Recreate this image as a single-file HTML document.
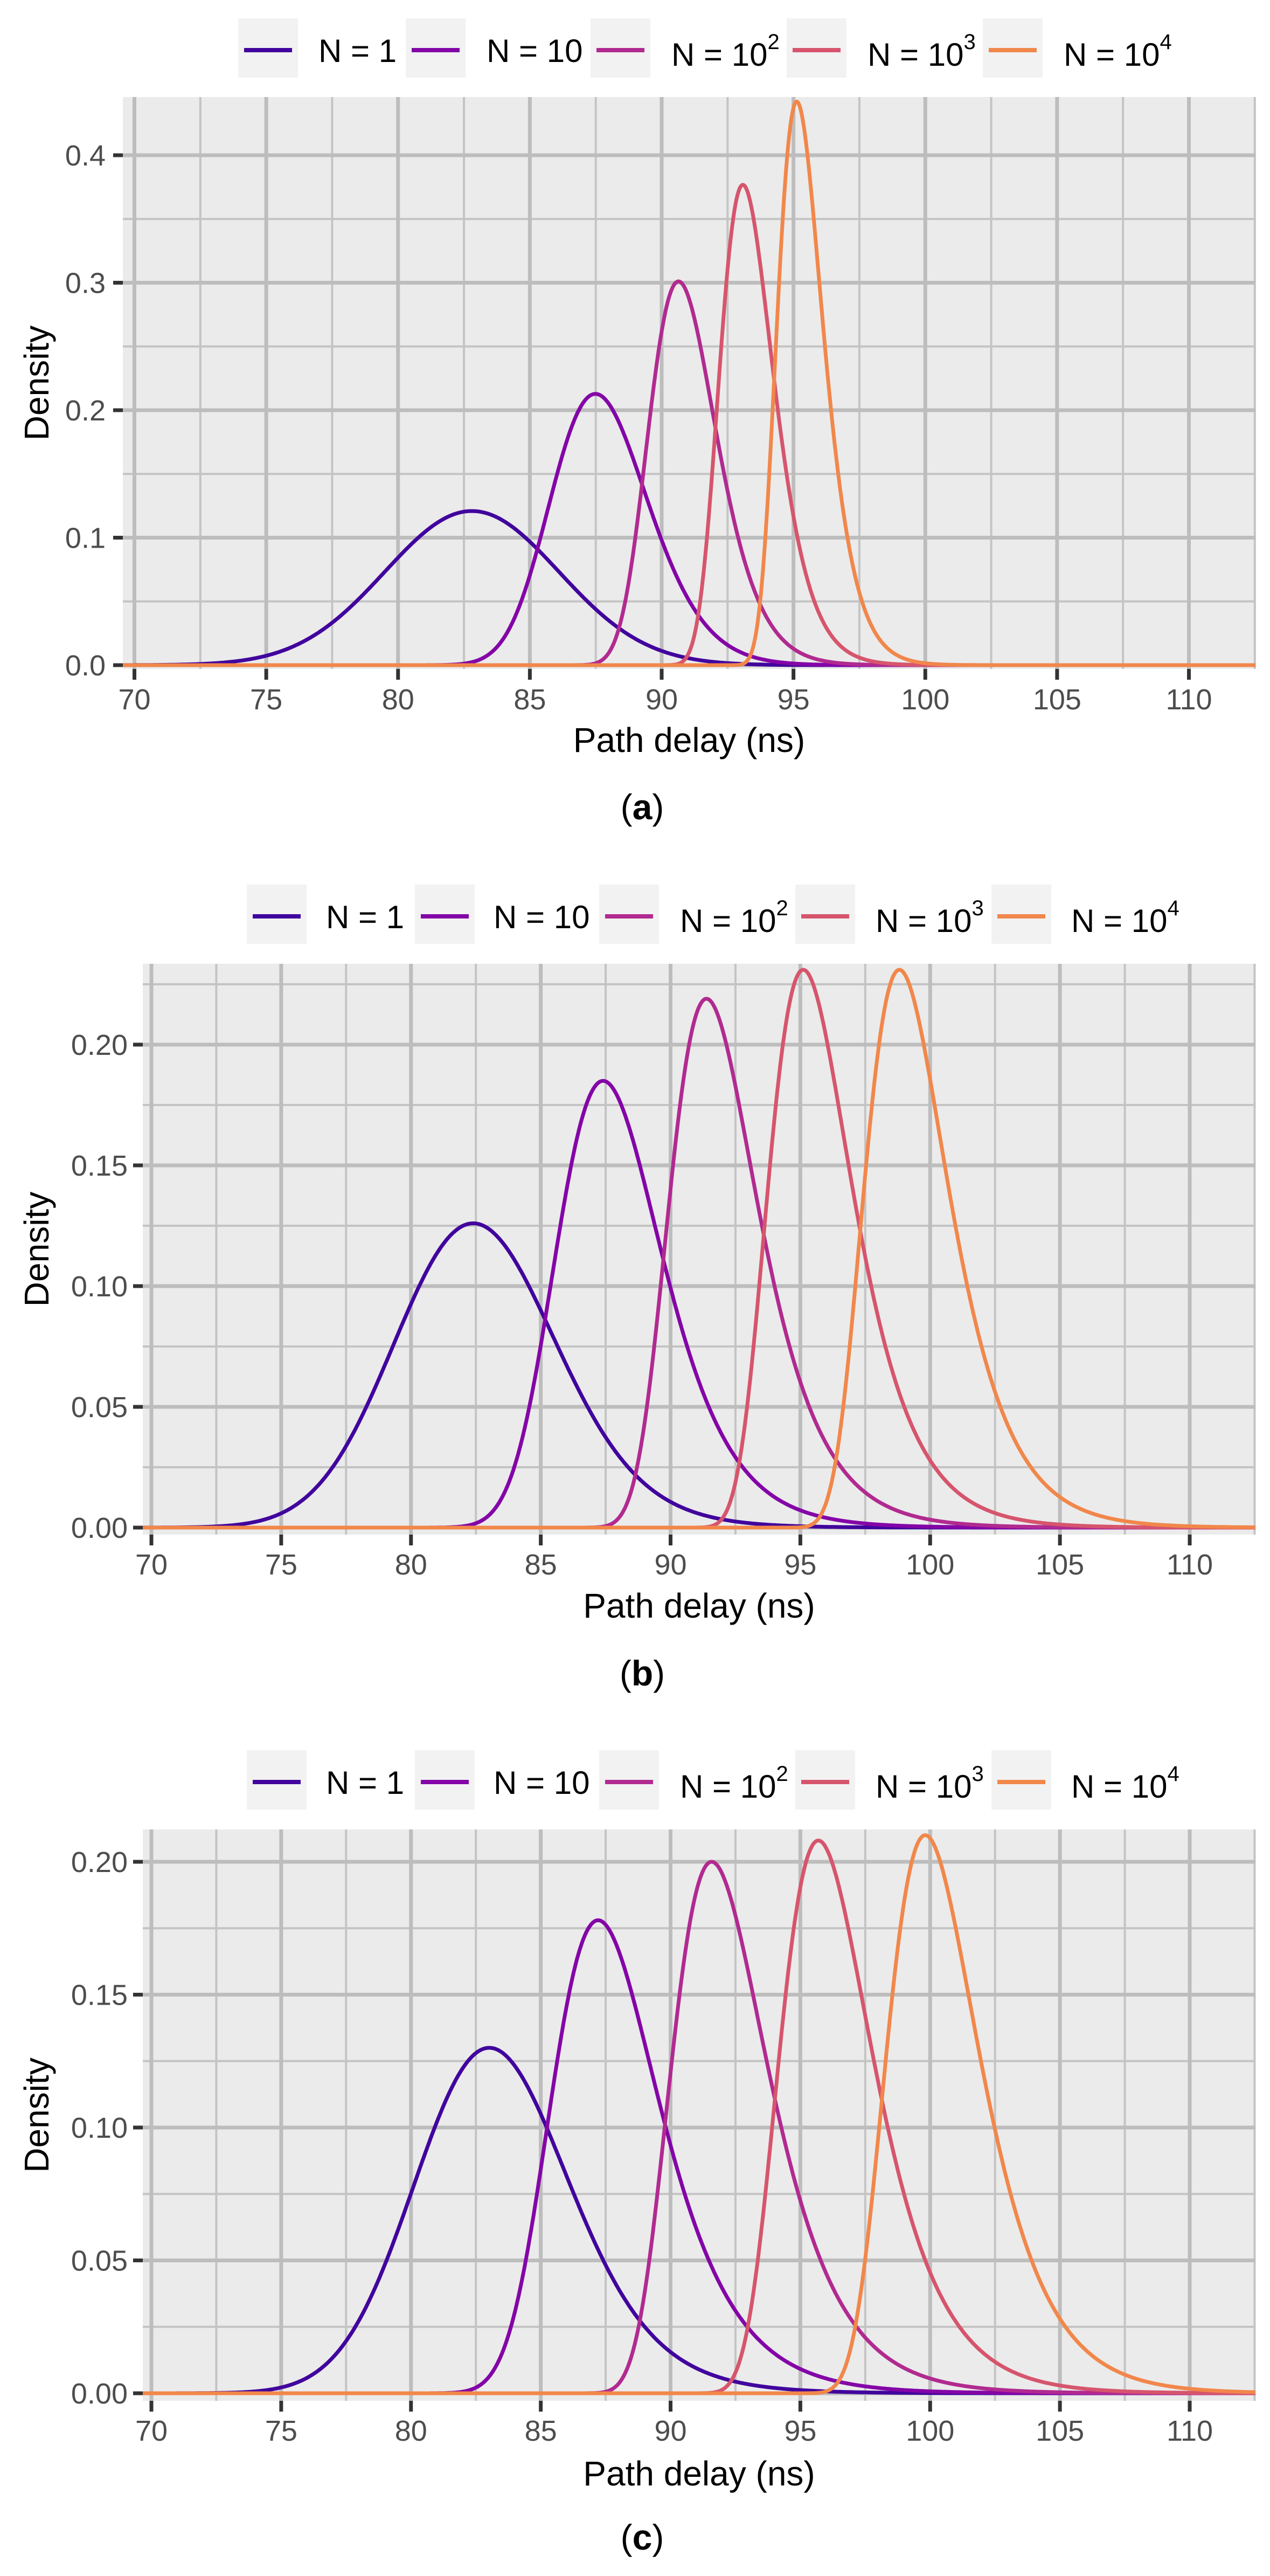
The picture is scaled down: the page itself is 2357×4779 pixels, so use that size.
<!DOCTYPE html>
<html><head><meta charset="utf-8">
<style>
html,body{margin:0;padding:0;background:#fff;}
svg{display:block;}
text{font-family:"Liberation Sans",sans-serif;}
</style></head>
<body>
<svg id="s" width="2357" height="4779" viewBox="0 0 2357 4779" xmlns="http://www.w3.org/2000/svg">
<rect width="2357" height="4779" fill="#fff"/>
<g id="g"></g>
</svg>
<script>
(function(){
var NS="http://www.w3.org/2000/svg", G=document.getElementById('g');
function el(t,a,txt,parent){var e=document.createElementNS(NS,t);for(var k in a)e.setAttribute(k,a[k]);if(txt!=null)e.textContent=txt;(parent||G).appendChild(e);return e;}
function erfc(x){var z=Math.abs(x),t=1/(1+0.5*z);
var r=t*Math.exp(-z*z-1.26551223+t*(1.00002368+t*(0.37409196+t*(0.09678418+t*(-0.18628806+t*(0.27886807+t*(-1.13520398+t*(1.48851587+t*(-0.82215223+t*0.17087277)))))))));
return x>=0?r:2-r;}
function Q(z){return 0.5*erfc(z/Math.SQRT2);}
function phi(z){return Math.exp(-0.5*z*z)/2.5066282746;}
var cols=["#41049d","#8405a7","#b12a90","#d6556d","#f1874b"];
var Ns=[1,10,100,1000,10000];
function normalBase(mu,s){return function(x){var z=(x-mu)/s;return [phi(z)/s,Q(z)];};}
function emgBase(mu,s,tau){var lam=1/tau, M=800, tmax=tau*25, dt=tmax/M;
 return function(x){var f=0,sf=0;for(var i=0;i<M;i++){var t=(i+0.5)*dt,w=lam*Math.exp(-lam*t)*dt,z=(x-t-mu)/s;f+=w*phi(z)/s;sf+=w*Q(z);}return [f,sf];};}
function panel(P){
 var X=function(v){return P.x0+(v-70)*P.xu;}, Y=function(v){return P.y0-v*P.yu;};
 el('rect',{x:P.L,y:P.T,width:P.R-P.L,height:P.B-P.T,fill:'#ebebeb'});
 var cp='cp'+P.id; var d=el('clipPath',{id:cp}); el('rect',{x:P.L,y:P.T,width:P.R-P.L,height:P.B-P.T},null,d);
 for(var v=72.5;v<=112.5;v+=5){var x=X(v);if(x>P.L&&x<P.R)el('line',{x1:x,x2:x,y1:P.T,y2:P.B,stroke:'#c4c4c4','stroke-width':4});}
 P.yminor.forEach(function(v){el('line',{x1:P.L,x2:P.R,y1:Y(v),y2:Y(v),stroke:'#c4c4c4','stroke-width':4});});
 for(var v=70;v<=110;v+=5){var x=X(v);el('line',{x1:x,x2:x,y1:P.T,y2:P.B,stroke:'#bdbdbd','stroke-width':7});}
 P.ymajor.forEach(function(v){el('line',{x1:P.L,x2:P.R,y1:Y(v),y2:Y(v),stroke:'#bdbdbd','stroke-width':7});});
 for(var v=70;v<=110;v+=5){var x=X(v);el('line',{x1:x,x2:x,y1:P.B,y2:P.B+20,stroke:'#333','stroke-width':7});
  el('text',{x:x,y:P.xly+19,'text-anchor':'middle','font-size':54,fill:'#4d4d4d'},String(v));}
 P.ymajor.forEach(function(v){var y=Y(v);el('line',{x1:P.L-18,x2:P.L,y1:y,y2:y,stroke:'#333','stroke-width':7});
  el('text',{x:P.ylx,y:y+19,'text-anchor':'end','font-size':54,fill:'#4d4d4d'},v.toFixed(P.dec));});
 el('text',{x:(P.L+P.R)/2,y:P.xty+22,'text-anchor':'middle','font-size':64,fill:'#000'},'Path delay (ns)');
 el('text',{x:0,y:0,'text-anchor':'middle','font-size':64,fill:'#000',transform:'translate(90,'+((P.T+P.B)/2)+') rotate(-90)'},'Density');
 var c=el('text',{x:1192,y:P.cap+22,'text-anchor':'middle','font-size':66,fill:'#000','font-family':'Liberation Serif, serif'},null);
 el('tspan',{},'(',c);el('tspan',{'font-weight':'bold'},P.id,c);el('tspan',{},')',c);
 var labs=['1','10','10','10','10'],sup=['','','2','3','4'];
 for(var i=0;i<5;i++){var bx=P.box[i];el('rect',{x:bx,y:P.ly,width:111,height:110,fill:'#f2f2f2'});
  el('line',{x1:bx+11,x2:bx+100,y1:P.ly+59,y2:P.ly+59,stroke:cols[i],'stroke-width':8});
  var t=el('text',{x:P.lab[i],y:P.ly+(sup[i]?88:81),'font-size':60,fill:'#000'},null);
  el('tspan',{},'N = '+labs[i],t); if(sup[i])el('tspan',{dy:-31,'font-size':40},sup[i],t);}
 var g=el('g',{'clip-path':'url(#'+cp+')'});
 var xs=[],base=[];for(var x=60;x<=125;x+=0.04){xs.push(x);base.push(P.base(x));}
 for(var k=0;k<5;k++){var N=Ns[k],ds=[],best=-1,bx=0;
  for(var j=0;j<xs.length;j++){var f=base[j][0],sf=base[j][1];
   var dens=N*f*Math.exp((N-1)*Math.log1p(-Math.min(sf,0.999999999999)));
   ds.push(dens); if(dens>best){best=dens;bx=xs[j];}}
  var s=1,tm=bx; if(P.tm){s=best/P.th[k];tm=P.tm[k];}
  var pts=[];
  for(var j=0;j<xs.length;j++){var xx=tm+(xs[j]-bx)*s, yy=ds[j]/s;
   if(xx<69||xx>113.5)continue;
   pts.push(X(xx).toFixed(1)+','+Y(yy).toFixed(1));}
  el('polyline',{points:pts.join(' '),fill:'none',stroke:cols[k],'stroke-width':7,'stroke-linejoin':'round'},null,g);}
}
panel({id:'a',L:228,R:2330,T:180,B:1241,x0:249.5,xu:48.925,y0:1234,yu:2365,
 ymajor:[0,0.1,0.2,0.3,0.4],yminor:[0.05,0.15,0.25,0.35],dec:1,ylx:196,xly:1297,xty:1373,cap:1498,
 ly:34,box:[442,753,1096,1460,1824],lab:[591,903,1246,1610,1974],base:normalBase(82.8,3.3)});
panel({id:'b',L:265,R:2330,T:1788,B:2847,x0:281,xu:48.175,y0:2834,yu:4480,
 ymajor:[0,0.05,0.1,0.15,0.2],yminor:[0.025,0.075,0.125,0.175,0.225],dec:2,ylx:237,xly:2902,xty:2979,cap:3105,
 ly:1641,box:[458,770,1112,1476,1840],lab:[605,916,1262,1625,1988],base:emgBase(80,2.7,1.6),
 tm:[82.4,87.4,91.4,95.1,98.8],th:[0.126,0.185,0.219,0.231,0.231]});
panel({id:'c',L:265,R:2330,T:3394,B:4454,x0:281,xu:48.175,y0:4440,yu:4930,
 ymajor:[0,0.05,0.1,0.15,0.2],yminor:[0.025,0.075,0.125,0.175],dec:2,ylx:237,xly:4509,xty:4589,cap:4708,
 ly:3247,box:[458,770,1112,1476,1840],lab:[605,916,1262,1625,1988],base:emgBase(80,2.4,1.78),
 tm:[83.0,87.2,91.6,95.7,99.8],th:[0.130,0.178,0.200,0.208,0.210]});
})();
</script>
</body></html>
